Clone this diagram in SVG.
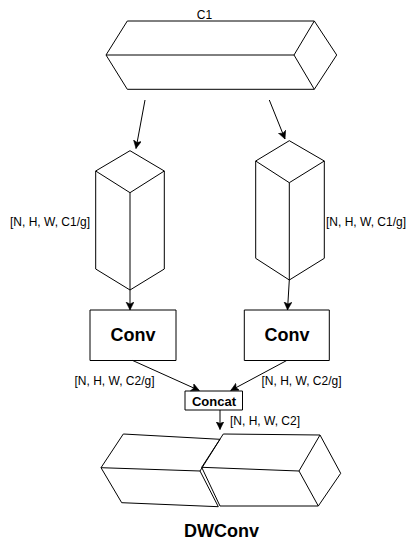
<svg xmlns="http://www.w3.org/2000/svg" width="417" height="541" viewBox="0 0 417 541">
<style>
.s{fill:none;stroke:#000;stroke-width:1;stroke-linejoin:round}
.w{fill:#fff;stroke:#000;stroke-width:1;stroke-linejoin:round}
.c{stroke:#000;stroke-width:1;fill:none}
.t{font-family:"Liberation Sans",Arial,sans-serif;font-size:12px;fill:#000}
.b{font-family:"Liberation Sans",Arial,sans-serif;font-weight:bold;fill:#000;text-anchor:middle}
</style>
<defs>
<marker id="ah" markerUnits="userSpaceOnUse" markerWidth="10" markerHeight="10" refX="8" refY="4" orient="auto">
<path d="M0,0 L8,4 L0,8 L2,4 Z" fill="#000" stroke="#000" stroke-width="0.5"/>
</marker>
</defs>
<rect width="417" height="541" fill="#fff"/>
<g id="input">
<path class="w" d="M106,55 L127.3,21 L314.3,21 L336.7,55 L314.3,89.3 L127.3,89.3 Z"/>
<path class="s" d="M106,55 L294,55 M314.3,21 L294,55 L314.3,89.3"/>
<text class="t" x="204.5" y="19" text-anchor="middle">C1</text>
</g>
<g id="split-left">
<path class="w" d="M130,150.7 L164.3,171 L164.3,269 L130,290 L95.7,269 L95.7,171 Z"/>
<path class="s" d="M95.7,171 L130,192.7 L164.3,171 M130,192.7 L130,290"/>
<text class="t" x="50" y="226" text-anchor="middle">[N, H, W, C1/g]</text>
</g>
<g id="split-right">
<path class="w" d="M289.3,140.7 L324.3,161 L324.3,258.3 L289.3,280 L255.7,258.3 L255.7,161 Z"/>
<path class="s" d="M255.7,161 L289.3,182.7 L324.3,161 M289.3,182.7 L289.3,280"/>
<text class="t" x="366" y="226" text-anchor="middle">[N, H, W, C1/g]</text>
</g>
<g id="conv-left">
<rect class="w" x="90" y="310" width="86" height="50.5"/>
<text class="b" x="133" y="341" font-size="18">Conv</text>
</g>
<g id="conv-right">
<rect class="w" x="244.3" y="310" width="85" height="50.5"/>
<text class="b" x="287" y="341" font-size="18">Conv</text>
</g>
<g id="concat">
<rect class="w" x="185" y="391" width="57.5" height="19"/>
<text class="b" x="214" y="405.5" font-size="13">Concat</text>
</g>
<g id="output">
<path class="s" d="M220,439.3 L123.3,434 L101,467.7 L121.7,502.7 L218.3,506.7 M101,467.7 L200,471 M220,439.3 L200,471 L218.3,506.7"/>
<path class="s" d="M201.7,467.3 L223.3,434 L320,435 L340.7,473.3 L318.3,506 L220,506 Z M201.7,467.3 L299,471 M320,435 L299,471 L318.3,506"/>
<text class="b" x="221.5" y="537" font-size="18">DWConv</text>
</g>
<g id="connectors">
<line class="c" x1="145" y1="100" x2="136" y2="148.5" marker-end="url(#ah)"/>
<line class="c" x1="269.3" y1="100" x2="285" y2="139" marker-end="url(#ah)"/>
<line class="c" x1="130" y1="290" x2="130" y2="310" marker-end="url(#ah)"/>
<line class="c" x1="289.3" y1="280" x2="287.5" y2="310" marker-end="url(#ah)"/>
<line class="c" x1="132.7" y1="360.5" x2="199.3" y2="390.5" marker-end="url(#ah)"/>
<line class="c" x1="286.7" y1="360.5" x2="230.7" y2="390.5" marker-end="url(#ah)"/>
<line class="c" x1="220" y1="410" x2="220" y2="429.5" marker-end="url(#ah)"/>
<text class="t" x="114.5" y="385" text-anchor="middle">[N, H, W, C2/g]</text>
<text class="t" x="301.5" y="385" text-anchor="middle">[N, H, W, C2/g]</text>
<text class="t" x="265" y="425" text-anchor="middle">[N, H, W, C2]</text>
</g>
</svg>
